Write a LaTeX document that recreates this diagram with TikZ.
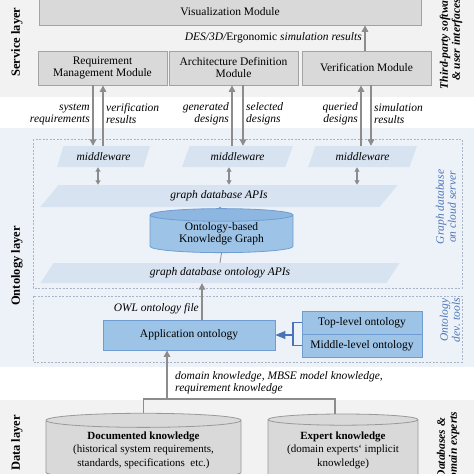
\documentclass[tikz,border=0pt]{standalone}
\usepackage{fontspec}
\setmainfont{Liberation Serif}
\usetikzlibrary{shapes.geometric,arrows.meta,calc}
\definecolor{bandgray}{HTML}{F2F2F2}
\definecolor{bandblue}{HTML}{EDF2F9}
\definecolor{boxgray}{HTML}{D9D9D9}
\definecolor{boxgrayb}{HTML}{A3A3A3}
\definecolor{parablue}{HTML}{D8E3F1}
\definecolor{kblue}{HTML}{9DC3E6}
\definecolor{kbluetop}{HTML}{8DB7E0}
\definecolor{kblueb}{HTML}{6F9DD2}
\definecolor{lblue}{HTML}{4A74B8}
\definecolor{arrgray}{HTML}{8C8C8C}
\definecolor{dashc}{HTML}{A9B5C6}
\definecolor{cylgray}{HTML}{D9D9D9}
\definecolor{cylgrayb}{HTML}{999999}
\tikzset{
  base/.style={font=\fontsize{11.5}{12}\selectfont, inner sep=0pt},
  graybox/.style={base, draw=boxgrayb, fill=boxgray, line width=0.8pt, align=center},
  para/.style={base, trapezium, trapezium left angle=62, trapezium right angle=118,
    trapezium stretches=true, fill=parablue, font=\fontsize{11.5}{12}\selectfont\itshape},
  kbox/.style={base, draw=kblueb, fill=kblue, line width=0.8pt, align=center},
  arr/.style={draw=arrgray, line width=1.2pt, -{Triangle[length=6.5pt,width=6.5pt]}},
  dblarr/.style={draw=arrgray, line width=1.2pt, {Triangle[length=4.5pt,width=5pt]}-{Triangle[length=4.5pt,width=5pt]}},
  plain/.style={draw=arrgray, line width=1.2pt},
  lbl/.style={base, font=\fontsize{11.5}{12}\selectfont\itshape},
  dbox/.style={draw=dashc, dash pattern=on 2pt off 1.5pt, line width=0.7pt},
  layerlbl/.style={base, rotate=90, font=\fontsize{12.5}{13}\selectfont\bfseries},
  sidelbl/.style={base, rotate=90, align=center, font=\fontsize{11.5}{12}\selectfont\bfseries\itshape},
  bluelbl/.style={base, rotate=90, align=center, text=lblue, font=\fontsize{11.5}{12}\selectfont\itshape},
  bl/.style={draw=lblue, line width=1.2pt},
}
\begin{document}
\begin{tikzpicture}[x=1pt,y=-1pt]
\useasboundingbox (0,0) rectangle (474,474);
\clip (0,0) rectangle (474,474);
% bands
\fill[bandgray] (0,-5) rectangle (474,97);
\fill[bandblue] (0,128) rectangle (474,367);
\fill[bandgray] (0,400) rectangle (474,480);
\draw[dbox] (33,139) rectangle (462,288);
\draw[dbox] (33,296) rectangle (462,362);
% layer labels
\node[layerlbl] (sl) at (17,42) {Service layer};
\node[layerlbl] (ol) at (17,266) {Ontology layer};
\node[layerlbl] (dl) at (17,443) {Data layer};
\node[sidelbl] (tp) at (451,40) {Third-party software\\\& user interfaces};
\node[bluelbl] (gdb) at (446,207) {Graph database\\on cloud server};
\node[bluelbl] (odt) at (450,320) {Ontology\\dev. tools};
\node[sidelbl] (dde) at (448,448) {Databases \&\\domain experts};
% service layer
\node[graybox, minimum width=382pt, minimum height=26pt] (vis) at (230,12) {Visualization Module};
\node[graybox, minimum width=129pt, minimum height=34pt] (req) at (102.5,68) {Requirement\\Management Module};
\node[graybox, minimum width=129pt, minimum height=34pt] (arch) at (233.5,68) {Architecture Definition\\Module};
\node[graybox, minimum width=129pt, minimum height=34pt] (ver) at (366.5,68) {Verification Module};
\coordinate (xv) at (365,0);
\draw[arr] (ver.north -| xv) -- (vis.south -| xv);
\node[lbl, anchor=east] (des) at (362,38) {DES/3D/\upshape Ergonomic \itshape simulation results};
% middleware
\node[para, minimum width=93pt, minimum height=21pt] (m1) at (103.5,156.5) {middleware};
\node[para, minimum width=111pt, minimum height=21pt] (m2) at (237.5,156.5) {middleware};
\node[para, minimum width=109pt, minimum height=21pt] (m3) at (362.5,156.5) {middleware};
\node[para, minimum width=358pt, minimum height=22pt] (api1) at (219,196) {graph database APIs};
\node[para, minimum width=360pt, minimum height=20pt] (api2) at (220,273) {graph database ontology APIs};
% module <-> middleware arrows
\coordinate (a1d) at (93,0); \coordinate (a1u) at (103,0);
\coordinate (a2u) at (232,0); \coordinate (a2d) at (243,0);
\coordinate (a3u) at (361,0); \coordinate (a3d) at (371,0);
\draw[arr] (req.south -| a1d) -- (m1.north -| a1d);
\draw[arr] (m1.north -| a1u) -- (req.south -| a1u);
\draw[arr] (m2.north -| a2u) -- (arch.south -| a2u);
\draw[arr] (arch.south -| a2d) -- (m2.north -| a2d);
\draw[arr] (m3.north -| a3u) -- (ver.south -| a3u);
\draw[arr] (ver.south -| a3d) -- (m3.north -| a3d);
\node[lbl, anchor=east, align=right] (t1) at (90,114) {system\\requirements};
\node[lbl, anchor=west, align=left] (t2) at (106,114) {verification\\results};
\node[lbl, anchor=east, align=right] (t3) at (229,114) {generated\\designs};
\node[lbl, anchor=west, align=left] (t4) at (246,114) {selected\\designs};
\node[lbl, anchor=east, align=right] (t5) at (358,114) {queried\\designs};
\node[lbl, anchor=west, align=left] (t6) at (374,114) {simulation\\results};
% middleware <-> apis
\coordinate (d1) at (98,0); \coordinate (d2) at (229,0); \coordinate (d3) at (357,0);
\draw[dblarr] (m1.south -| d1) -- (api1.north -| d1);
\draw[dblarr] (m2.south -| d2) -- (api1.north -| d2);
\draw[dblarr] (m3.south -| d3) -- (api1.north -| d3);
% knowledge graph
\node[base, cylinder, shape border rotate=90, aspect=0.15, draw=kblueb, line width=0.8pt,
  cylinder uses custom fill, cylinder body fill=kblue, cylinder end fill=kbluetop,
  minimum width=143pt, minimum height=44pt, align=center,
  font=\fontsize{11.5}{12}\selectfont] (kg) at (221.5,234) {Ontology-based\\Knowledge Graph};
\draw[plain, line width=0.8pt] (api1.south) -- (kg.top);
\draw[plain, line width=0.8pt] (kg.bottom) -- (api2.north);
% ontology dev tools
\node[kbox, minimum width=172pt, minimum height=30pt] (app) at (189,335) {Application ontology};
\node[kbox, minimum width=120pt, minimum height=23pt] (top) at (362,322.5) {Top-level ontology};
\node[kbox, minimum width=120pt, minimum height=23pt] (mid) at (362,345.5) {Middle-level ontology};
\coordinate (xo) at (202,0);
\draw[arr] (app.north -| xo) -- (api2.south -| xo);
\node[lbl, anchor=east] (owl) at (199,309) {OWL ontology file};
\coordinate (br) at (293,335);
\draw[bl] (top.west) -| (br) |- (mid.west);
\draw[bl, -{Triangle[length=10pt,width=8pt]}] (br) -- (app.east);
% data layer
\node[base, cylinder, shape border rotate=90, aspect=0.1, draw=cylgrayb, line width=0.8pt,
  fill=cylgray, minimum width=195pt, minimum height=66pt, align=center,
  font=\fontsize{11}{13.5}\selectfont] (doc) at (143.5,450)
  {\textbf{Documented knowledge}\\(historical system requirements,\\standards, specifications~ etc.)};
\node[base, cylinder, shape border rotate=90, aspect=0.1, draw=cylgrayb, line width=0.8pt,
  fill=cylgray, minimum width=150pt, minimum height=66pt, align=center,
  font=\fontsize{11}{13.5}\selectfont] (exp) at (343,450)
  {\textbf{Expert knowledge}\\(domain experts` implicit\\knowledge)};
\coordinate (j) at (167,399);
\coordinate (xe) at (335,0);
\draw[plain] (doc.top) |- (j) -| (exp.top -| xe);
\draw[arr] (j) -- (app.south -| j);
\node[lbl, anchor=west, align=left] (dk) at (175,383) {domain knowledge, MBSE model knowledge,\\requirement knowledge};
\end{tikzpicture}
\end{document}
